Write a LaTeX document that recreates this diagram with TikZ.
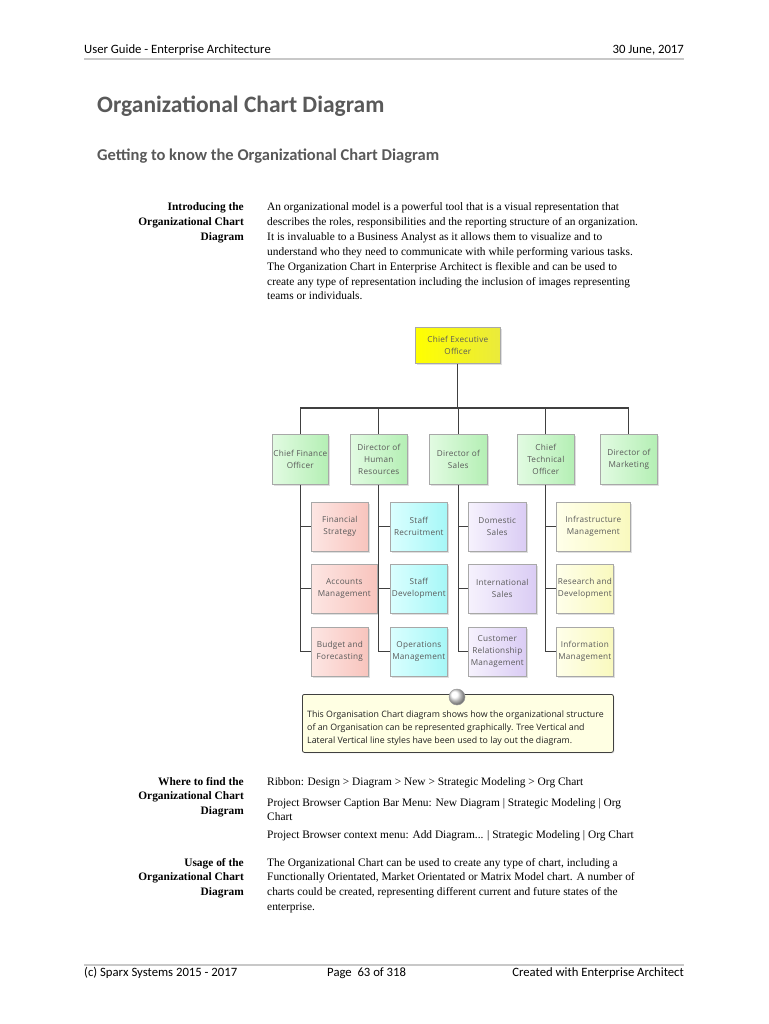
\documentclass[tikz,border=0pt]{standalone}
\usepackage{fontspec}
\setmainfont{Liberation Serif}
\newfontfamily\calfont{Carlito}
\newfontfamily\diagfont[LetterSpace=3]{Open Sans}
\newfontfamily\notefont{Open Sans}
\usetikzlibrary{shadows}
\definecolor{titlegray}{HTML}{595959}
\definecolor{rulegray}{HTML}{C8C8C8}
\definecolor{linegray}{HTML}{404040}
\definecolor{boxtext}{HTML}{5A5A5A}
\definecolor{boxborder}{HTML}{A8A8A8}
\definecolor{ceoL}{HTML}{FFFF00}
\definecolor{ceoR}{HTML}{EAEA3C}
\definecolor{grnL}{HTML}{E2FBE2}
\definecolor{grnR}{HTML}{B4EFB4}
\definecolor{pnkL}{HTML}{FDE6E3}
\definecolor{pnkR}{HTML}{F8C4BD}
\definecolor{cynL}{HTML}{DAFFFF}
\definecolor{cynR}{HTML}{A6F7F7}
\definecolor{lavL}{HTML}{F6F2FD}
\definecolor{lavR}{HTML}{DACCF4}
\definecolor{ylwL}{HTML}{FFFFEA}
\definecolor{ylwR}{HTML}{F9F9BE}
\definecolor{notefill}{HTML}{FFFFE3}
\tikzset{
  hdr/.style={font=\calfont\fontsize{12.7}{14}\selectfont, inner sep=0pt},
  lbl/.style={font=\bfseries\fontsize{11.4}{14}\selectfont, inner sep=0pt, anchor=base east},
  body/.style={font=\fontsize{11.4}{14}\selectfont, inner sep=0pt, anchor=base west},
  obox/.style={draw=boxborder, line width=0.6pt, inner sep=0.5pt, align=center,
    anchor=north west, text=boxtext,
    font=\diagfont\fontsize{8.2}{12}\selectfont,
    drop shadow={shadow xshift=1.2pt, shadow yshift=-1.2pt, opacity=0.25, fill=gray}},
  ceobox/.style={obox, left color=ceoL, right color=ceoR},
  grnbox/.style={obox, left color=grnL, right color=grnR},
  pnkbox/.style={obox, left color=pnkL, right color=pnkR},
  cynbox/.style={obox, left color=cynL, right color=cynR},
  lavbox/.style={obox, left color=lavL, right color=lavR},
  ylwbox/.style={obox, left color=ylwL, right color=ylwR},
  conn/.style={draw=linegray, line width=1.1pt},
  notetxt/.style={anchor=base west, inner sep=0pt, text=black!88,
    font=\notefont\fontsize{8.8}{13}\selectfont},
}
\begin{document}
\begin{tikzpicture}[x=1pt,y=-1pt]
\useasboundingbox (0,0) rectangle (768,1024);
\fill[white] (0,0) rectangle (768,1024);

% header
\node[hdr, anchor=base west] (hl) at (84,54) {User Guide - Enterprise Architecture};
\node[hdr, anchor=base east] (hr) at (684,54) {30 June, 2017};
\draw[rulegray, line width=2pt] (84,59) -- (684,59);

% titles
\node[anchor=base west, inner sep=0pt, text=titlegray, font=\calfont\bfseries\fontsize{23.5}{28}\selectfont] (title) at (97,113) {Organizational Chart Diagram};
\node[anchor=base west, inner sep=0pt, text=titlegray, font=\calfont\bfseries\fontsize{16.5}{20}\selectfont] (subtitle) at (97,161) {Getting to know the Organizational Chart Diagram};

% intro
\foreach \t [count=\i] in {Introducing the, Organizational Chart, Diagram}
  \node[lbl] (il\i) at (244,{211+(\i-1)*14.8}) {\t};
\foreach \t [count=\i] in {
  {An organizational model is a powerful tool that is a visual representation that},
  {describes the roles, responsibilities and the reporting structure of an organization.},
  {It is invaluable to a Business Analyst as it allows them to visualize and to},
  {understand who they need to communicate with while performing various tasks.},
  {The Organization Chart in Enterprise Architect is flexible and can be used to},
  {create any type of representation including the inclusion of images representing},
  {teams or individuals.}}
  \node[body] (ib\i) at (267,{211+(\i-1)*14.8}) {\t};

% org chart
\node[ceobox, minimum width=85pt, minimum height=36pt] (ceo) at (415,327) {Chief Executive\\Officer};

\node[grnbox, minimum width=56pt, minimum height=50pt] (cfo) at (272,434) {Chief Finance\\Officer};
\node[grnbox, minimum width=57pt, minimum height=50pt] (dhr) at (350,434) {Director of\\Human\\Resources};
\node[grnbox, minimum width=58pt, minimum height=50pt] (dos) at (429,434) {Director of\\Sales};
\node[grnbox, minimum width=57pt, minimum height=50pt] (cto) at (517,434) {Chief\\Technical\\Officer};
\node[grnbox, minimum width=57pt, minimum height=50pt] (dom) at (600,434) {Director of\\Marketing};

\node[pnkbox, minimum width=57pt, minimum height=49pt] (fs) at (311,502) {Financial\\Strategy};
\node[pnkbox, minimum width=66pt, minimum height=49pt] (am) at (311,564) {Accounts\\Management};
\node[pnkbox, minimum width=57pt, minimum height=49pt] (bf) at (311,627) {Budget and\\Forecasting};

\node[cynbox, minimum width=57pt, minimum height=49pt] (sr) at (390,502) {Staff\\Recruitment};
\node[cynbox, minimum width=57pt, minimum height=49pt] (sd) at (390,564) {Staff\\Development};
\node[cynbox, minimum width=57pt, minimum height=49pt] (om) at (390,627) {Operations\\Management};

\node[lavbox, minimum width=58pt, minimum height=49pt] (ds) at (468,502) {Domestic\\Sales};
\node[lavbox, minimum width=68pt, minimum height=49pt] (is) at (468,564) {International\\Sales};
\node[lavbox, minimum width=58pt, minimum height=49pt] (crm) at (468,627) {Customer\\Relationship\\Management};

\node[ylwbox, minimum width=74pt, minimum height=49pt] (im) at (556,502) {Infrastructure\\Management};
\node[ylwbox, minimum width=57pt, minimum height=49pt] (rd) at (556,564) {Research and\\Development};
\node[ylwbox, minimum width=57pt, minimum height=49pt] (inm) at (556,627) {Information\\Management};

\coordinate (busL) at (300,408);
\coordinate (busR) at (628.5,408);
\draw[conn] (busL -| cfo.north) -- (busL -| dom.north);
\draw[conn] (ceo.south) -- (ceo.south |- busL);
\foreach \n in {cfo,dhr,dos,cto,dom}
  \draw[conn] (\n.north |- busL) -- (\n.north);

\foreach \p/\a/\b/\c in {cfo/fs/am/bf, dhr/sr/sd/om, dos/ds/is/crm, cto/im/rd/inm}{
  \draw[conn] (\p.south) |- (\c.west);
  \draw[conn] (\p.south |- \a.west) -- (\a.west);
  \draw[conn] (\p.south |- \b.west) -- (\b.west);
}

% note
\node[draw=linegray, line width=0.8pt, fill=notefill, rounded corners=2pt,
  anchor=north west, minimum width=311pt, minimum height=58pt, inner sep=0pt,
  drop shadow={shadow xshift=1pt, shadow yshift=-1pt, opacity=0.2}] (note) at (302,694) {};
\node[notetxt] (notetext1) at (307,717.5)
  {This Organisation Chart diagram shows how the organizational structure};
\node[notetxt] (notetext2) at (307,730.5)
  {of an Organisation can be represented graphically. Tree Vertical and};
\node[notetxt] (notetext3) at (307,743.5)
  {Lateral Vertical line styles have been used to lay out the diagram.};
\node[circle, draw=gray!80, line width=0.5pt, minimum size=16pt, inner sep=0pt,
  ball color=white, shading=ball] (knob) at (457,697) {};

% where to find
\foreach \t [count=\i] in {Where to find the, Organizational Chart, Diagram}
  \node[lbl] (wl\i) at (244,{785+(\i-1)*14.8}) {\t};
\node[body] (w1) at (267,785) {Ribbon: Design > Diagram > New > Strategic Modeling > Org Chart};
\node[body] (w2) at (267,806) {Project Browser Caption Bar Menu: New Diagram | Strategic Modeling | Org};
\node[body] (w3) at (267,820.8) {Chart};
\node[body] (w4) at (267,838) {Project Browser context menu: Add Diagram... | Strategic Modeling | Org Chart};

% usage
\foreach \t [count=\i] in {Usage of the, Organizational Chart, Diagram}
  \node[lbl] (ul\i) at (244,{866+(\i-1)*14.8}) {\t};
\foreach \t [count=\i] in {
  {The Organizational Chart can be used to create any type of chart, including a},
  {Functionally Orientated, Market Orientated or Matrix Model chart. A number of},
  {charts could be created, representing different current and future states of the},
  {enterprise.}}
  \node[body] (ub\i) at (267,{866+(\i-1)*14.8}) {\t};

% footer
\draw[rulegray, line width=2pt] (84,965) -- (684,965);
\node[hdr, anchor=base west] (fl) at (84,976) {(c) Sparx Systems 2015 - 2017};
\node[hdr, anchor=base west] (fm) at (327,976) {Page\ \ 63 of 318};
\node[hdr, anchor=base east] (fr) at (684,976) {Created with Enterprise Architect};
\end{tikzpicture}
\end{document}
